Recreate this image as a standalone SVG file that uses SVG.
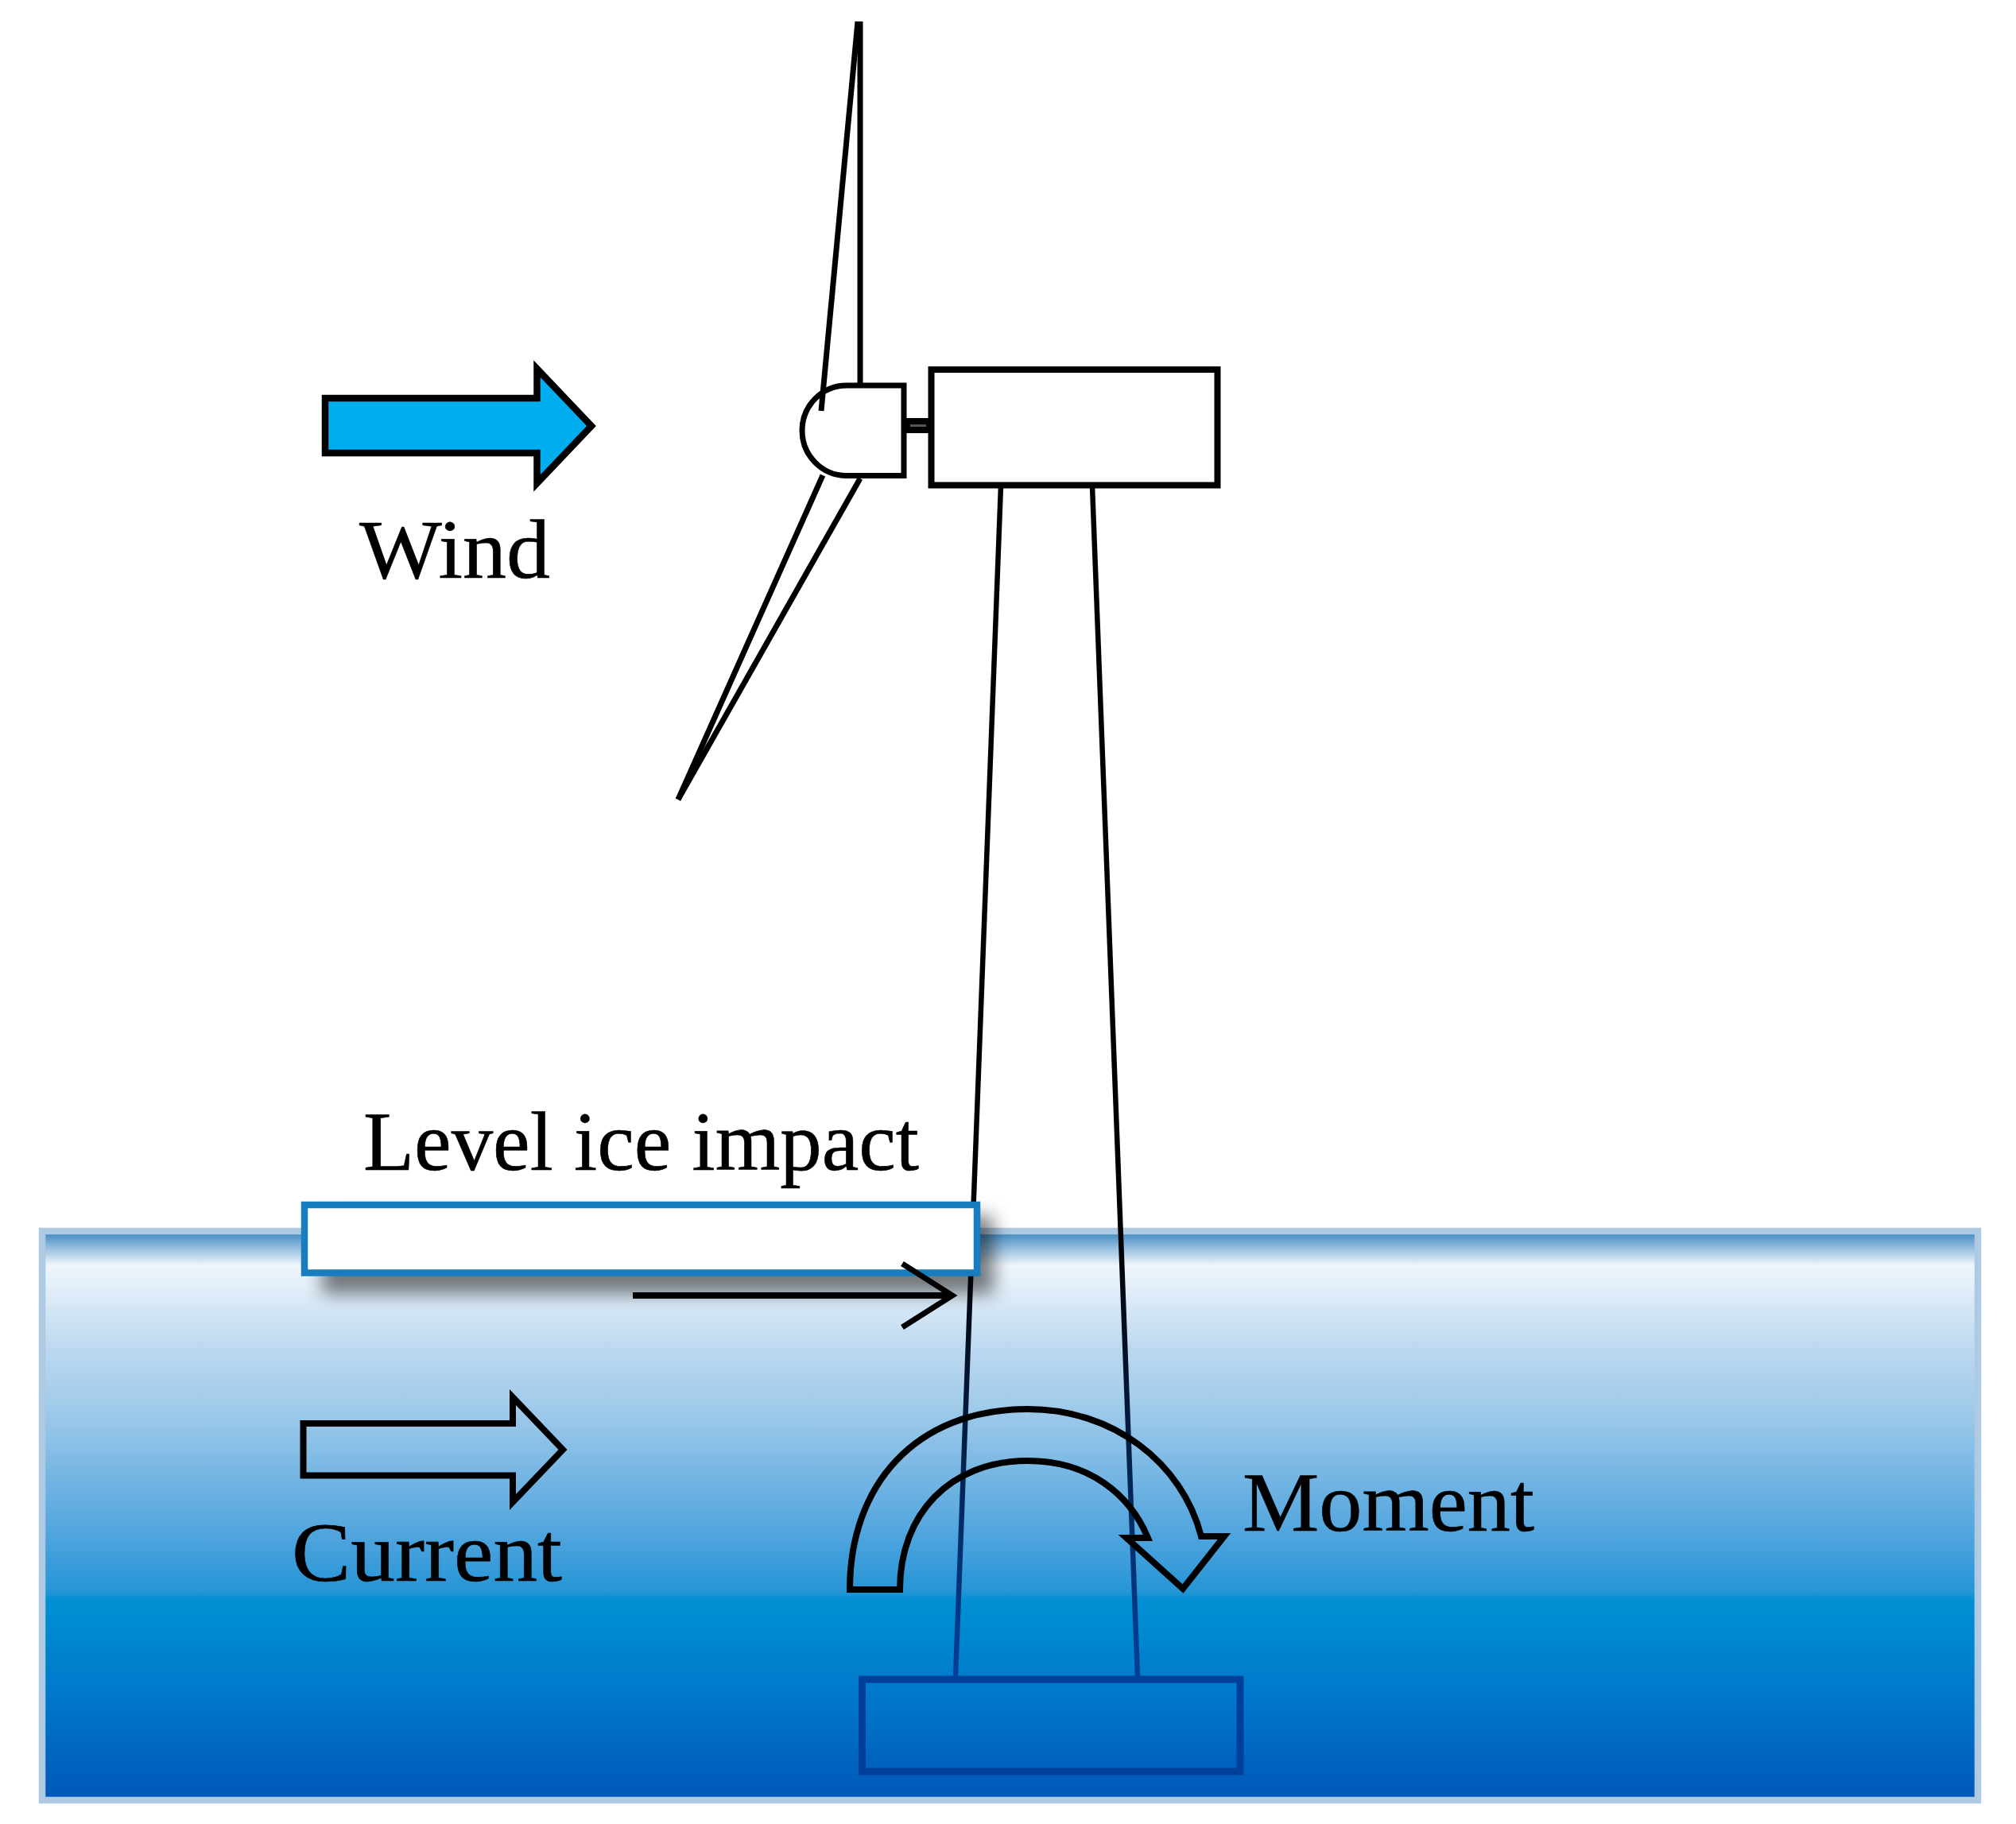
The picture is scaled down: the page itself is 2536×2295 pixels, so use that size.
<svg xmlns="http://www.w3.org/2000/svg" width="2536" height="2295" viewBox="0 0 2536 2295">
<style>
.ln{fill:none;stroke:#000;stroke-width:7;stroke-linejoin:miter;stroke-miterlimit:10}
.box{fill:#fff;stroke:#000;stroke-width:8}
.lab{font-family:"Liberation Serif","Times New Roman",serif;font-size:105px;fill:#000;stroke:#000;stroke-width:0.6}
</style>
<defs>
<linearGradient id="sea" gradientUnits="userSpaceOnUse" x1="0" y1="1553" x2="0" y2="2261">
<stop offset="0" stop-color="#4a8fc4"/>
<stop offset="0.017" stop-color="#7fb0d8"/>
<stop offset="0.034" stop-color="#b0cfe8"/>
<stop offset="0.047" stop-color="#d8e7f4"/>
<stop offset="0.056" stop-color="#eff6fc"/>
<stop offset="0.21" stop-color="#bad7ef"/>
<stop offset="0.31" stop-color="#9fcaea"/>
<stop offset="0.53" stop-color="#52a5de"/>
<stop offset="0.635" stop-color="#2595d6"/>
<stop offset="0.65" stop-color="#0090d3"/>
<stop offset="0.82" stop-color="#0078ca"/>
<stop offset="1" stop-color="#0058b9"/>
</linearGradient>
<linearGradient id="towerInk" gradientUnits="userSpaceOnUse" x1="0" y1="1560" x2="0" y2="2110">
<stop offset="0" stop-color="#000"/>
<stop offset="0.4" stop-color="#001a3a"/>
<stop offset="0.7" stop-color="#003070"/>
<stop offset="1" stop-color="#00409a"/>
</linearGradient>
<filter id="blur" x="-10%" y="-50%" width="120%" height="200%"><feGaussianBlur stdDeviation="11"/></filter>
</defs>
<rect width="2536" height="2295" fill="#fff"/>
<g id="water"><rect x="53" y="1549" width="2435" height="716" fill="url(#sea)" stroke="#aecae3" stroke-width="8.5"/></g>
<g id="tower">
<path d="M1259,611 L1202,2110" fill="none" stroke="url(#towerInk)" stroke-width="6.5"/>
<path d="M1374,611 L1431,2110" fill="none" stroke="url(#towerInk)" stroke-width="6.5"/>
</g>
<g id="foundation"><rect x="1084.5" y="2113" width="475.5" height="116" fill="none" stroke="#00409a" stroke-width="9"/></g>
<g id="ice">
<rect x="405" y="1530" width="845" height="98" fill="#000" opacity="0.5" filter="url(#blur)"/>
<rect x="383" y="1516" width="846" height="85.5" fill="#fff" stroke="#187dbf" stroke-width="8.5"/>
</g>
<g id="shaft"><rect x="1140" y="526" width="30" height="19" fill="#000"/><rect x="1145" y="534" width="20" height="3" fill="#555"/></g>
<g id="nacelle"><rect class="box" x="1171.5" y="465" width="360" height="145.5"/></g>
<g id="hub"><path d="M1137,485 H1065 A56,56.75 0 0 0 1065,598.5 H1137 Z" fill="#fff" stroke="#000" stroke-width="7"/></g>
<g id="blades">
<path class="ln" d="M1082,27 V485"/>
<path class="ln" d="M1079,27 L1033,517"/>
<path class="ln" d="M1035,598 L853,1006"/>
<path class="ln" d="M1082,602 L853,1006"/>
</g>
<g id="wind">
<path d="M409,501 H675.5 V464 L744,536 L675.5,608 V570 H409 Z" fill="#00aeef" stroke="#000" stroke-width="8.5" stroke-miterlimit="10"/>
<text class="lab" x="452" y="727" textLength="240" lengthAdjust="spacingAndGlyphs">Wind</text>
</g>
<g id="current">
<path d="M381.5,1791 H645 V1758 L708,1824 L645,1890 V1856.5 H381.5 Z" fill="none" stroke="#000" stroke-width="8" stroke-miterlimit="10"/>
<text class="lab" x="367" y="1989" textLength="340" lengthAdjust="spacingAndGlyphs">Current</text>
</g>
<g id="level-ice-label"><text class="lab" x="457" y="1472" textLength="699" lengthAdjust="spacingAndGlyphs">Level ice impact</text></g>
<g id="moment">
<path d="M1069,2000 C1069,1870 1150,1773 1293,1773 C1400,1773 1487,1840 1511,1933 L1540,1933 L1488,1999 L1417,1935 L1444,1935 C1421,1880 1370,1838 1293,1838 C1195,1838 1132,1905 1132,2000 Z" fill="none" stroke="#000" stroke-width="8" stroke-miterlimit="10"/>
<text class="lab" x="1563" y="1926" textLength="367" lengthAdjust="spacingAndGlyphs">Moment</text>
</g>
<g id="connectors">
<path d="M796,1630 H1194" fill="none" stroke="#000" stroke-width="8"/>
<path d="M1135,1590 L1198,1630 L1135,1670" fill="none" stroke="#000" stroke-width="7" stroke-miterlimit="10"/>
</g>
</svg>
